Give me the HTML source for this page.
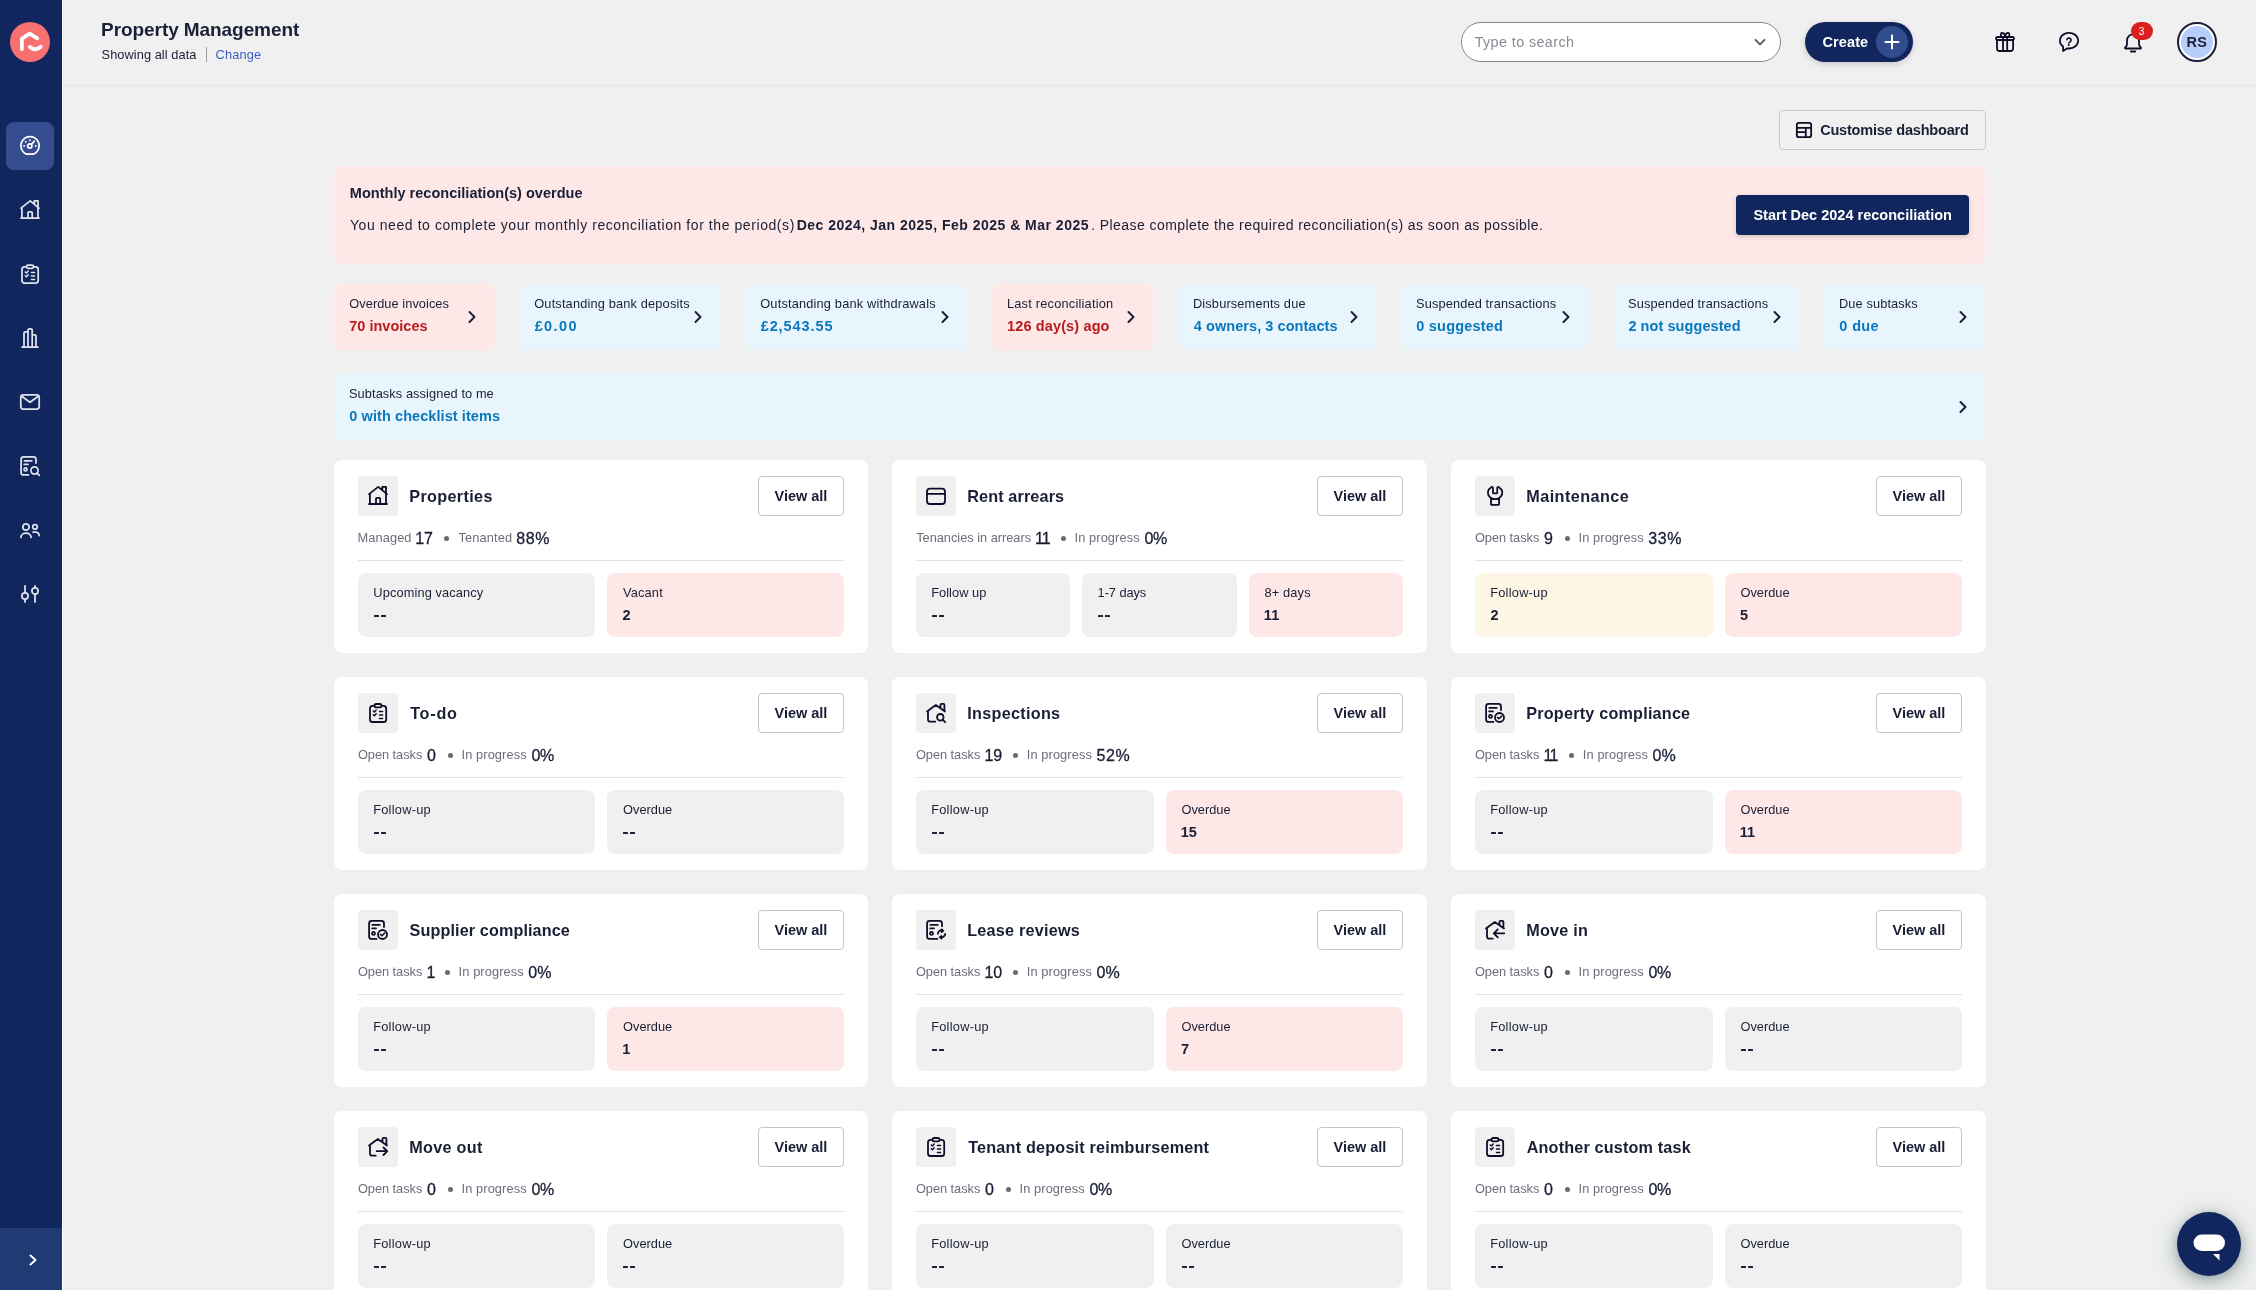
<!DOCTYPE html>
<html><head><meta charset="utf-8"><title>Property Management</title><style>html,body{margin:0;padding:0}
body{width:2256px;height:1290px;overflow:hidden;background:#f0f0f0;font-family:"Liberation Sans",sans-serif;position:relative;color:#1a1f36}
#app{position:absolute;left:0;top:0;width:2256px;height:1290px;overflow:hidden;will-change:transform}
.t{position:absolute;white-space:nowrap;line-height:1;margin:0;padding:0}
</style></head><body>
<div id="app">
<div style="position:absolute;left:0px;top:0px;width:62px;height:1290px;background:#11265c;border-radius:0px;"></div>
<div style="position:absolute;left:62px;top:0px;width:1px;height:1290px;background:#ffffff;border-radius:0px;"></div>
<div style="position:absolute;left:0px;top:1228px;width:62px;height:62px;background:#203a74;border-radius:0px;"></div>
<svg style="position:absolute;left:25px;top:1252px" width="16" height="16" viewBox="25 1252 16 16"><path d="M30.5 1255.5 L35.5 1260 L30.5 1264.5" fill="none" stroke="#ffffff" stroke-width="2" stroke-linecap="round" stroke-linejoin="round"/></svg>
<div style="position:absolute;left:10px;top:22px;width:40px;height:40px;background:#f87171;border-radius:20px;"></div>
<svg style="position:absolute;left:10px;top:22px" width="40" height="40" viewBox="10 22 40 40" fill="none" stroke="#fff" stroke-width="3.8" stroke-linecap="round" stroke-linejoin="round"><path d="M21.9 49.2 V38.6 L29.8 33.7 L37.3 38.3 M29.9 47 Q35.2 51.6 40.7 46.8"/></svg>
<div style="position:absolute;left:6px;top:122px;width:48px;height:48px;background:#334d8f;border-radius:8px;"></div>
<svg style="position:absolute;left:18px;top:134px;overflow:visible" width="24" height="24" viewBox="-12 -12 24 24" fill="none" stroke="#ffffff" stroke-width="1.75" stroke-linecap="round" stroke-linejoin="round"><path d="M-3.5 8.2 A9.1 9.1 0 1 1 3.5 8.2 Z"/><circle cx="-0.2" cy="0" r="2.1"/><path d="M1.3 -1.6 L4.2 -4.7"/><g fill="#ffffff" stroke="none"><circle cx="-5.9" cy="0" r="0.95"/><circle cx="5.7" cy="0" r="0.95"/><circle cx="-0.2" cy="-5.8" r="0.95"/><circle cx="-4.3" cy="-4.3" r="0.95"/></g></svg>
<svg style="position:absolute;left:18px;top:198px;overflow:visible" width="24" height="24" viewBox="-12 -12 24 24" fill="none" stroke="#dfe3ee" stroke-width="1.75" stroke-linecap="round" stroke-linejoin="round"><path d="M-9 8 H9 M-8.1 8 V-2.2 M8 8 V-9.1 M-9 -1.85 L0.2 -9.1 L9 -1.85 M4.3 -5.9 V-9.1 H8 M-2 8 V2.8 a1 1 0 0 1 1 -1 H1.2 a1 1 0 0 1 1 1 V8"/></svg>
<svg style="position:absolute;left:18px;top:262px;overflow:visible" width="24" height="24" viewBox="-12 -12 24 24" fill="none" stroke="#dfe3ee" stroke-width="1.75" stroke-linecap="round" stroke-linejoin="round"><rect x="-8" y="-7.2" width="16.2" height="16.2" rx="2.6"/><rect x="-3.5" y="-9" width="7" height="3.3" rx="1.6" fill="#11265c"/><path d="M-4.7 -2 L-3.6 -1 L-1.8 -2.9 M-4.7 1.7 L-3.6 2.7 L-1.8 0.8 M1.5 -1.6 H4.6 M1.5 2 H4.6 M1.5 5.6 H4.6" stroke-width="1.5"/></svg>
<svg style="position:absolute;left:18px;top:326px;overflow:visible" width="24" height="24" viewBox="-12 -12 24 24" fill="none" stroke="#dfe3ee" stroke-width="1.75" stroke-linecap="round" stroke-linejoin="round"><path d="M-8 9 H8 M-6 9 V-5 a1.2 1.2 0 0 1 1.2 -1.2 H-2 M-2 9 V-7.9 a1.2 1.2 0 0 1 1.2 -1.2 h1.8 a1.2 1.2 0 0 1 1.2 1.2 V9 M2.2 -3.2 H4.8 a1.2 1.2 0 0 1 1.2 1.2 V9"/></svg>
<svg style="position:absolute;left:18px;top:390px;overflow:visible" width="24" height="24" viewBox="-12 -12 24 24" fill="none" stroke="#dfe3ee" stroke-width="1.75" stroke-linecap="round" stroke-linejoin="round"><rect x="-9.2" y="-7.2" width="18.4" height="14.4" rx="2.6"/><path d="M-8.3 -5.8 L0 0.3 L8.3 -5.8"/></svg>
<svg style="position:absolute;left:18px;top:454px;overflow:visible" width="24" height="24" viewBox="-12 -12 24 24" fill="none" stroke="#dfe3ee" stroke-width="1.75" stroke-linecap="round" stroke-linejoin="round"><path d="M6 -3 V-6.6 a2.5 2.5 0 0 0 -2.5 -2.5 H-6.4 a2.5 2.5 0 0 0 -2.5 2.5 V6.4 a2.5 2.5 0 0 0 2.5 2.5 H-1.5 M-5.6 -5.1 H1.8 M-5.8 -1.6 H-2"/><circle cx="-4.5" cy="3.4" r="1.5"/><circle cx="4.5" cy="4.5" r="3.55"/><path d="M7.2 7.2 L9.3 9.3"/></svg>
<svg style="position:absolute;left:18px;top:518px;overflow:visible" width="24" height="24" viewBox="-12 -12 24 24" fill="none" stroke="#dfe3ee" stroke-width="1.75" stroke-linecap="round" stroke-linejoin="round"><circle cx="-4" cy="-3.1" r="3.15"/><path d="M-9.1 7.4 A5.1 4.3 0 0 1 1.1 7.4"/><circle cx="5" cy="-3.1" r="2.3"/><path d="M3 2 H5.7 A3.5 3.5 0 0 1 9.2 5.5"/></svg>
<svg style="position:absolute;left:18px;top:582px;overflow:visible" width="24" height="24" viewBox="-12 -12 24 24" fill="none" stroke="#dfe3ee" stroke-width="1.75" stroke-linecap="round" stroke-linejoin="round"><path d="M-5 -8.7 V-1.1 M-5 5.1 V8.7 M5 -8.7 V-6.2 M5 0 V8.7" stroke-linecap="butt"/><circle cx="-5" cy="2" r="3.1"/><circle cx="5" cy="-3.1" r="3.1"/></svg>
<div style="position:absolute;left:63px;top:85px;width:2193px;height:1px;background:#e3e5e6;border-radius:0px;"></div>
<span class="t" id="t0" style="left:101.12px;top:20px;font-size:19px;font-weight:700;color:#1a1f36;letter-spacing:-0.076px">Property Management</span>
<span class="t" id="t1" style="left:101.57px;top:49px;font-size:12.8px;font-weight:400;color:#1a1f36;letter-spacing:0.061px">Showing all data</span>
<div style="position:absolute;left:206px;top:47px;width:1px;height:15px;background:#9a9a9a;border-radius:0px;"></div>
<span class="t" id="t2" style="left:215.48px;top:49px;font-size:12.8px;font-weight:400;color:#3b5fc4;letter-spacing:0.172px">Change</span>
<div style="position:absolute;left:1461px;top:22px;width:320px;height:40px;box-sizing:border-box;background:#fff;border:1px solid #80858c;border-radius:20px"></div>
<span class="t" id="t3" style="left:1474.66px;top:35px;font-size:14.3px;font-weight:400;color:#868b92;letter-spacing:0.423px">Type to search</span>
<svg style="position:absolute;left:1752px;top:34px" width="16" height="16" viewBox="1752 34 16 16"><path d="M1755.5 39.8 L1760 44.3 L1764.5 39.8" fill="none" stroke="#555" stroke-width="1.9" stroke-linecap="round" stroke-linejoin="round"/></svg>
<div style="position:absolute;left:1805px;top:22px;width:108px;height:40px;background:#11265c;border-radius:20px;box-shadow:0 2px 6px rgba(0,0,0,.17)"></div>
<span class="t" id="t4" style="left:1822.42px;top:35px;font-size:14.5px;font-weight:700;color:#fff;letter-spacing:0.124px">Create</span>
<div style="position:absolute;left:1876px;top:26px;width:32px;height:32px;background:#314c8f;border-radius:16px;"></div>
<svg style="position:absolute;left:1876px;top:26px" width="32" height="32" viewBox="0 0 32 32"><path d="M16 9.5V22.5M9.5 16H22.5" stroke="#fff" stroke-width="2" stroke-linecap="round"/></svg>
<svg style="position:absolute;left:1993px;top:30px;overflow:visible" width="24" height="24" viewBox="-12 -12 24 24" fill="none" stroke="#100d28" stroke-width="1.8" stroke-linecap="round" stroke-linejoin="round"><rect x="-9" y="-5" width="18" height="3" rx="1.4"/><path d="M-8 -2 V6.5 a2.5 2.5 0 0 0 2.5 2.5 H5.6 a2.5 2.5 0 0 0 2.5 -2.5 V-2 M-2 -5 V9 M2.2 -5 V9 M0.1 -5.4 C-0.3 -7.6 -1.7 -9.2 -3 -9.1 C-4.4 -9 -4.5 -6.9 -3.6 -5.3 M0.1 -5.4 C0.5 -7.6 1.9 -9.2 3.2 -9.1 C4.6 -9 4.7 -6.9 3.8 -5.3"/></svg>
<svg style="position:absolute;left:2057px;top:30px;overflow:visible" width="24" height="24" viewBox="-12 -12 24 24" fill="none" stroke="#100d28" stroke-width="1.8" stroke-linecap="round" stroke-linejoin="round"><path d="M-1.6 6.35 A9.1 7.8 0 1 0 -5.9 4.6 L-5.9 9.1 Z"/><path d="M-2.1 -2.3 A2.1 2.1 0 1 1 1.4 -0.4 L-0.2 1" stroke-width="1.6"/><circle cx="-0.2" cy="3.1" r="1" fill="#100d28" stroke="none"/></svg>
<svg style="position:absolute;left:2121px;top:30.5px;overflow:visible" width="24" height="24" viewBox="-12 -12 24 24" fill="none" stroke="#100d28" stroke-width="1.8" stroke-linecap="round" stroke-linejoin="round"><path d="M-6 1.5 V-2.6 a6 6 0 0 1 12 0 V1.5 c0 1.5 2 2.4 2 3.4 c0 .4 -.3 .6 -.7 .6 H-7.3 c-.4 0 -.7 -.2 -.7 -.6 c0 -1 2 -1.9 2 -3.4Z M-2.2 8.5 H2.2"/></svg>
<div style="position:absolute;left:2131px;top:22px;width:22px;height:18px;background:#dc2020;border-radius:9px;"></div>
<span class="t" id="t5" style="left:2138.80px;top:27px;font-size:10px;font-weight:400;color:#fff;letter-spacing:0.000px">3</span>
<div style="position:absolute;left:2177px;top:22px;width:40px;height:40px;box-sizing:border-box;border:2px solid #1a1f36;border-radius:20px;background:#fff"></div>
<div style="position:absolute;left:2181px;top:26px;width:32px;height:32px;background:#b7cdfb;border-radius:16px;"></div>
<span class="t" id="t6" style="left:2186.40px;top:35px;font-size:14.5px;font-weight:700;color:#1a1f36;letter-spacing:0.400px">RS</span>
<div style="position:absolute;left:1779px;top:110px;width:207px;height:40px;box-sizing:border-box;border:1px solid #c6c8cc;border-radius:4px"></div>
<svg style="position:absolute;left:1792px;top:118px;overflow:visible" width="24" height="24" viewBox="-12 -12 24 24" fill="none" stroke="#100d28" stroke-width="1.8" stroke-linecap="round" stroke-linejoin="round"><rect x="-7.15" y="-7.15" width="14.3" height="14.3" rx="2"/><path d="M-7.15 -2.2 H7.15 M1.8 -2.2 V7.15 M-7.15 2.1 H1.8" stroke-linecap="butt"/></svg>
<span class="t" id="t7" style="left:1820.18px;top:123px;font-size:14.5px;font-weight:700;color:#1a1f36;letter-spacing:-0.202px">Customise dashboard</span>
<div style="position:absolute;left:334px;top:166px;width:1652px;height:98px;background:#fde8e7;border-radius:8px;"></div>
<span class="t" id="t8" style="left:349.87px;top:186px;font-size:14.5px;font-weight:700;color:#1a1f36;letter-spacing:0.019px">Monthly reconciliation(s) overdue</span>
<span class="t" id="t9" style="left:349.95px;top:218px;font-size:14px;font-weight:400;color:#1a1f36;letter-spacing:0.571px">You need to complete your monthly reconciliation for the period(s)</span>
<span class="t" id="t10" style="left:796.65px;top:218px;font-size:14px;font-weight:700;color:#1a1f36;letter-spacing:0.491px">Dec 2024, Jan 2025, Feb 2025 &amp; Mar 2025</span>
<span class="t" id="t11" style="left:1091.19px;top:218px;font-size:14px;font-weight:400;color:#1a1f36;letter-spacing:0.427px">. Please complete the required reconciliation(s) as soon as possible.</span>
<div style="position:absolute;left:1736px;top:195px;width:233px;height:40px;background:#11265c;border-radius:4px;box-shadow:0 2px 5px rgba(0,0,0,.16)"></div>
<span class="t" id="t12" style="left:1753.42px;top:208px;font-size:14.5px;font-weight:700;color:#fff;letter-spacing:0.010px">Start Dec 2024 reconciliation</span>
<div style="position:absolute;left:334px;top:284px;width:161px;height:66px;background:#fde8e7;border-radius:8px;"></div>
<span class="t" id="t13" style="left:349.25px;top:298px;font-size:12.8px;font-weight:400;color:#1a1f36;letter-spacing:0.054px">Overdue invoices</span>
<span class="t" id="t14" style="left:349.31px;top:319px;font-size:14.5px;font-weight:700;color:#b91c1c;letter-spacing:0.005px">70 invoices</span>
<svg style="position:absolute;left:464px;top:309px" width="16" height="16" viewBox="464 309 16 16"><path d="M469.5 312.0 L474.5 317 L469.5 322.0" fill="none" stroke="#1a1f36" stroke-width="2" stroke-linecap="round" stroke-linejoin="round"/></svg>
<div style="position:absolute;left:519px;top:284px;width:202px;height:66px;background:#e8f5fc;border-radius:8px;"></div>
<span class="t" id="t15" style="left:534.25px;top:298px;font-size:12.8px;font-weight:400;color:#1a1f36;letter-spacing:0.157px">Outstanding bank deposits</span>
<span class="t" id="t16" style="left:534.67px;top:319px;font-size:14.5px;font-weight:700;color:#0b78be;letter-spacing:1.396px">£0.00</span>
<svg style="position:absolute;left:690px;top:309px" width="16" height="16" viewBox="690 309 16 16"><path d="M695.5 312.0 L700.5 317 L695.5 322.0" fill="none" stroke="#1a1f36" stroke-width="2" stroke-linecap="round" stroke-linejoin="round"/></svg>
<div style="position:absolute;left:745px;top:284px;width:223px;height:66px;background:#e8f5fc;border-radius:8px;"></div>
<span class="t" id="t17" style="left:760.25px;top:298px;font-size:12.8px;font-weight:400;color:#1a1f36;letter-spacing:0.170px">Outstanding bank withdrawals</span>
<span class="t" id="t18" style="left:760.67px;top:319px;font-size:14.5px;font-weight:700;color:#0b78be;letter-spacing:0.912px">£2,543.55</span>
<svg style="position:absolute;left:937px;top:309px" width="16" height="16" viewBox="937 309 16 16"><path d="M942.5 312.0 L947.5 317 L942.5 322.0" fill="none" stroke="#1a1f36" stroke-width="2" stroke-linecap="round" stroke-linejoin="round"/></svg>
<div style="position:absolute;left:992px;top:284px;width:162px;height:66px;background:#fde8e7;border-radius:8px;"></div>
<span class="t" id="t19" style="left:1006.97px;top:298px;font-size:12.8px;font-weight:400;color:#1a1f36;letter-spacing:0.208px">Last reconciliation</span>
<span class="t" id="t20" style="left:1006.99px;top:319px;font-size:14.5px;font-weight:700;color:#b91c1c;letter-spacing:0.135px">126 day(s) ago</span>
<svg style="position:absolute;left:1123px;top:309px" width="16" height="16" viewBox="1123 309 16 16"><path d="M1128.5 312.0 L1133.5 317 L1128.5 322.0" fill="none" stroke="#1a1f36" stroke-width="2" stroke-linecap="round" stroke-linejoin="round"/></svg>
<div style="position:absolute;left:1178px;top:284px;width:199px;height:66px;background:#e8f5fc;border-radius:8px;"></div>
<span class="t" id="t21" style="left:1192.96px;top:298px;font-size:12.8px;font-weight:400;color:#1a1f36;letter-spacing:0.144px">Disbursements due</span>
<span class="t" id="t22" style="left:1193.86px;top:319px;font-size:14.5px;font-weight:700;color:#0b78be;letter-spacing:0.054px">4 owners, 3 contacts</span>
<svg style="position:absolute;left:1346px;top:309px" width="16" height="16" viewBox="1346 309 16 16"><path d="M1351.5 312.0 L1356.5 317 L1351.5 322.0" fill="none" stroke="#1a1f36" stroke-width="2" stroke-linecap="round" stroke-linejoin="round"/></svg>
<div style="position:absolute;left:1401px;top:284px;width:188px;height:66px;background:#e8f5fc;border-radius:8px;"></div>
<span class="t" id="t23" style="left:1416.00px;top:298px;font-size:12.8px;font-weight:400;color:#1a1f36;letter-spacing:0.131px">Suspended transactions</span>
<span class="t" id="t24" style="left:1416.36px;top:319px;font-size:14.5px;font-weight:700;color:#0b78be;letter-spacing:0.195px">0 suggested</span>
<svg style="position:absolute;left:1558px;top:309px" width="16" height="16" viewBox="1558 309 16 16"><path d="M1563.5 312.0 L1568.5 317 L1563.5 322.0" fill="none" stroke="#1a1f36" stroke-width="2" stroke-linecap="round" stroke-linejoin="round"/></svg>
<div style="position:absolute;left:1613px;top:284px;width:187px;height:66px;background:#e8f5fc;border-radius:8px;"></div>
<span class="t" id="t25" style="left:1628.00px;top:298px;font-size:12.8px;font-weight:400;color:#1a1f36;letter-spacing:0.131px">Suspended transactions</span>
<span class="t" id="t26" style="left:1628.40px;top:319px;font-size:14.5px;font-weight:700;color:#0b78be;letter-spacing:0.069px">2 not suggested</span>
<svg style="position:absolute;left:1769px;top:309px" width="16" height="16" viewBox="1769 309 16 16"><path d="M1774.5 312.0 L1779.5 317 L1774.5 322.0" fill="none" stroke="#1a1f36" stroke-width="2" stroke-linecap="round" stroke-linejoin="round"/></svg>
<div style="position:absolute;left:1824px;top:284px;width:162px;height:66px;background:#e8f5fc;border-radius:8px;"></div>
<span class="t" id="t27" style="left:1838.96px;top:298px;font-size:12.8px;font-weight:400;color:#1a1f36;letter-spacing:0.111px">Due subtasks</span>
<span class="t" id="t28" style="left:1839.36px;top:319px;font-size:14.5px;font-weight:700;color:#0b78be;letter-spacing:0.344px">0 due</span>
<svg style="position:absolute;left:1955px;top:309px" width="16" height="16" viewBox="1955 309 16 16"><path d="M1960.5 312.0 L1965.5 317 L1960.5 322.0" fill="none" stroke="#1a1f36" stroke-width="2" stroke-linecap="round" stroke-linejoin="round"/></svg>
<div style="position:absolute;left:334px;top:374px;width:1652px;height:66px;background:#e8f5fc;border-radius:8px;"></div>
<span class="t" id="t29" style="left:349.00px;top:388px;font-size:12.8px;font-weight:400;color:#1a1f36;letter-spacing:0.080px">Subtasks assigned to me</span>
<span class="t" id="t30" style="left:349.36px;top:409px;font-size:14.5px;font-weight:700;color:#0b78be;letter-spacing:0.075px">0 with checklist items</span>
<svg style="position:absolute;left:1955px;top:399px" width="16" height="16" viewBox="1955 399 16 16"><path d="M1960.5 402.0 L1965.5 407 L1960.5 412.0" fill="none" stroke="#1a1f36" stroke-width="2" stroke-linecap="round" stroke-linejoin="round"/></svg>
<div style="position:absolute;left:334px;top:460px;width:534px;height:193px;background:#fff;border-radius:8px;"></div>
<div style="position:absolute;left:358px;top:476px;width:40px;height:40px;background:#f0f0f0;border-radius:4px;"></div>
<svg style="position:absolute;left:366px;top:484px;overflow:visible" width="24" height="24" viewBox="-12 -12 24 24" fill="none" stroke="#100d28" stroke-width="1.8" stroke-linecap="round" stroke-linejoin="round"><path d="M-9 8 H9 M-8.1 8 V-2.2 M8 8 V-9.1 M-9 -1.85 L0.2 -9.1 L9 -1.85 M4.3 -5.9 V-9.1 H8 M-2 8 V2.8 a1 1 0 0 1 1 -1 H1.2 a1 1 0 0 1 1 1 V8"/></svg>
<span class="t" id="t31" style="left:409.26px;top:488px;font-size:16.2px;font-weight:700;color:#1a1f36;letter-spacing:0.346px">Properties</span>
<div style="position:absolute;left:758px;top:476px;width:86px;height:40px;box-sizing:border-box;border:1px solid #c3c5ca;border-radius:4px;background:#fff"></div>
<span class="t" id="t32" style="left:774.53px;top:489px;font-size:14.5px;font-weight:700;color:#1a1f36;letter-spacing:-0.016px">View all</span>
<span class="t" id="t33" style="left:357.55px;top:532px;font-size:12.8px;font-weight:400;color:#6b6f7b;letter-spacing:0.091px">Managed</span>
<span class="t" id="t34" style="left:415.19px;top:531px;font-size:16px;font-weight:400;color:#1a1f36;letter-spacing:0.009px;-webkit-text-stroke:0.3px #1a1f36">17</span>
<div style="position:absolute;left:444.1px;top:536.2px;width:5px;height:5px;background:#666a73;border-radius:2.5px;"></div>
<span class="t" id="t35" style="left:458.60px;top:532px;font-size:12.8px;font-weight:400;color:#6b6f7b;letter-spacing:0.126px">Tenanted</span>
<span class="t" id="t36" style="left:516.31px;top:531px;font-size:16px;font-weight:400;color:#1a1f36;letter-spacing:0.566px;-webkit-text-stroke:0.3px #1a1f36">88%</span>
<div style="position:absolute;left:358px;top:560px;width:486px;height:1px;background:#e1e3e6;border-radius:0px;"></div>
<div style="position:absolute;left:358.0px;top:573px;width:237.0px;height:64px;background:#f0f0f0;border-radius:8px;"></div>
<span class="t" id="t37" style="left:373.32px;top:587px;font-size:12.8px;font-weight:400;color:#1a1f36;letter-spacing:0.118px">Upcoming vacancy</span>
<div style="position:absolute;left:374.0px;top:615px;width:5px;height:1.9px;background:#1a1f36;border-radius:0.5px;"></div>
<div style="position:absolute;left:381.0px;top:615px;width:5px;height:1.9px;background:#1a1f36;border-radius:0.5px;"></div>
<div style="position:absolute;left:607.0px;top:573px;width:237.0px;height:64px;background:#fde8e7;border-radius:8px;"></div>
<span class="t" id="t38" style="left:623.04px;top:587px;font-size:12.8px;font-weight:400;color:#1a1f36;letter-spacing:0.154px">Vacant</span>
<span class="t" id="t39" style="left:622.51px;top:608px;font-size:14.5px;font-weight:700;color:#1a1f36;letter-spacing:0.174px">2</span>
<div style="position:absolute;left:892px;top:460px;width:535px;height:193px;background:#fff;border-radius:8px;"></div>
<div style="position:absolute;left:916px;top:476px;width:40px;height:40px;background:#f0f0f0;border-radius:4px;"></div>
<svg style="position:absolute;left:924px;top:484px;overflow:visible" width="24" height="24" viewBox="-12 -12 24 24" fill="none" stroke="#100d28" stroke-width="1.8" stroke-linecap="round" stroke-linejoin="round"><rect x="-9" y="-7.3" width="18" height="15.3" rx="3"/><path d="M-9 -2.1 H9"/></svg>
<span class="t" id="t40" style="left:967.26px;top:488px;font-size:16.2px;font-weight:700;color:#1a1f36;letter-spacing:0.130px">Rent arrears</span>
<div style="position:absolute;left:1317px;top:476px;width:86px;height:40px;box-sizing:border-box;border:1px solid #c3c5ca;border-radius:4px;background:#fff"></div>
<span class="t" id="t41" style="left:1333.53px;top:489px;font-size:14.5px;font-weight:700;color:#1a1f36;letter-spacing:-0.016px">View all</span>
<span class="t" id="t42" style="left:916.18px;top:532px;font-size:12.8px;font-weight:400;color:#6b6f7b;letter-spacing:-0.016px">Tenancies in arrears</span>
<span class="t" id="t43" style="left:1035.11px;top:531px;font-size:16px;font-weight:400;color:#1a1f36;letter-spacing:-1.148px;-webkit-text-stroke:0.3px #1a1f36">11</span>
<div style="position:absolute;left:1061.1px;top:536.2px;width:5px;height:5px;background:#666a73;border-radius:2.5px;"></div>
<span class="t" id="t44" style="left:1074.55px;top:532px;font-size:12.8px;font-weight:400;color:#6b6f7b;letter-spacing:0.097px">In progress</span>
<span class="t" id="t45" style="left:1144.41px;top:531px;font-size:16px;font-weight:400;color:#1a1f36;letter-spacing:-0.299px;-webkit-text-stroke:0.3px #1a1f36">0%</span>
<div style="position:absolute;left:916px;top:560px;width:487px;height:1px;background:#e1e3e6;border-radius:0px;"></div>
<div style="position:absolute;left:916.0px;top:573px;width:154.3px;height:64px;background:#f0f0f0;border-radius:8px;"></div>
<span class="t" id="t46" style="left:931.19px;top:587px;font-size:12.8px;font-weight:400;color:#1a1f36;letter-spacing:0.050px">Follow up</span>
<div style="position:absolute;left:932.0px;top:615px;width:5px;height:1.9px;background:#1a1f36;border-radius:0.5px;"></div>
<div style="position:absolute;left:939.0px;top:615px;width:5px;height:1.9px;background:#1a1f36;border-radius:0.5px;"></div>
<div style="position:absolute;left:1082.3px;top:573px;width:154.3px;height:64px;background:#f0f0f0;border-radius:8px;"></div>
<span class="t" id="t47" style="left:1097.61px;top:587px;font-size:12.8px;font-weight:400;color:#1a1f36;letter-spacing:-0.066px">1-7 days</span>
<div style="position:absolute;left:1098.3px;top:615px;width:5px;height:1.9px;background:#1a1f36;border-radius:0.5px;"></div>
<div style="position:absolute;left:1105.3px;top:615px;width:5px;height:1.9px;background:#1a1f36;border-radius:0.5px;"></div>
<div style="position:absolute;left:1248.7px;top:573px;width:154.3px;height:64px;background:#fde8e7;border-radius:8px;"></div>
<span class="t" id="t48" style="left:1264.43px;top:587px;font-size:12.8px;font-weight:400;color:#1a1f36;letter-spacing:0.159px">8+ days</span>
<span class="t" id="t49" style="left:1263.86px;top:608px;font-size:14.5px;font-weight:700;color:#1a1f36;letter-spacing:0.174px">11</span>
<div style="position:absolute;left:1451px;top:460px;width:535px;height:193px;background:#fff;border-radius:8px;"></div>
<div style="position:absolute;left:1475px;top:476px;width:40px;height:40px;background:#f0f0f0;border-radius:4px;"></div>
<svg style="position:absolute;left:1483px;top:484px;overflow:visible" width="24" height="24" viewBox="-12 -12 24 24" fill="none" stroke="#100d28" stroke-width="1.8" stroke-linecap="round" stroke-linejoin="round"><path d="M-2.05 -3.6 V-8.1 Q-2.05 -9.5 -3.7 -8.8 A7.2 6.5 0 1 0 3.9 -8.8 Q2.25 -9.5 2.25 -8.1 V-3.6 a1 1 0 0 1 -1 1 H-1.05 a1 1 0 0 1 -1 -1 M-4 2.1 V7.9 a1 1 0 0 0 1 1 H3.1 a1 1 0 0 0 1 -1 V2.1"/></svg>
<span class="t" id="t50" style="left:1526.26px;top:488px;font-size:16.2px;font-weight:700;color:#1a1f36;letter-spacing:0.451px">Maintenance</span>
<div style="position:absolute;left:1876px;top:476px;width:86px;height:40px;box-sizing:border-box;border:1px solid #c3c5ca;border-radius:4px;background:#fff"></div>
<span class="t" id="t51" style="left:1892.53px;top:489px;font-size:14.5px;font-weight:700;color:#1a1f36;letter-spacing:-0.016px">View all</span>
<span class="t" id="t52" style="left:1474.89px;top:532px;font-size:12.8px;font-weight:400;color:#6b6f7b;letter-spacing:-0.035px">Open tasks</span>
<span class="t" id="t53" style="left:1543.89px;top:531px;font-size:16px;font-weight:400;color:#1a1f36;letter-spacing:0.480px;-webkit-text-stroke:0.3px #1a1f36">9</span>
<div style="position:absolute;left:1565.1px;top:536.2px;width:5px;height:5px;background:#666a73;border-radius:2.5px;"></div>
<span class="t" id="t54" style="left:1578.55px;top:532px;font-size:12.8px;font-weight:400;color:#6b6f7b;letter-spacing:0.097px">In progress</span>
<span class="t" id="t55" style="left:1648.16px;top:531px;font-size:16px;font-weight:400;color:#1a1f36;letter-spacing:0.616px;-webkit-text-stroke:0.3px #1a1f36">33%</span>
<div style="position:absolute;left:1475px;top:560px;width:487px;height:1px;background:#e1e3e6;border-radius:0px;"></div>
<div style="position:absolute;left:1475.0px;top:573px;width:237.5px;height:64px;background:#fef6e4;border-radius:8px;"></div>
<span class="t" id="t56" style="left:1490.18px;top:587px;font-size:12.8px;font-weight:400;color:#1a1f36;letter-spacing:0.244px">Follow-up</span>
<span class="t" id="t57" style="left:1490.51px;top:608px;font-size:14.5px;font-weight:700;color:#1a1f36;letter-spacing:0.174px">2</span>
<div style="position:absolute;left:1724.5px;top:573px;width:237.5px;height:64px;background:#fde8e7;border-radius:8px;"></div>
<span class="t" id="t58" style="left:1740.52px;top:587px;font-size:12.8px;font-weight:400;color:#1a1f36;letter-spacing:-0.016px">Overdue</span>
<span class="t" id="t59" style="left:1739.92px;top:608px;font-size:14.5px;font-weight:700;color:#1a1f36;letter-spacing:0.174px">5</span>
<div style="position:absolute;left:334px;top:677px;width:534px;height:193px;background:#fff;border-radius:8px;"></div>
<div style="position:absolute;left:358px;top:693px;width:40px;height:40px;background:#f0f0f0;border-radius:4px;"></div>
<svg style="position:absolute;left:366px;top:701px;overflow:visible" width="24" height="24" viewBox="-12 -12 24 24" fill="none" stroke="#100d28" stroke-width="1.8" stroke-linecap="round" stroke-linejoin="round"><rect x="-8" y="-7.2" width="16.2" height="16.2" rx="2.6"/><rect x="-3.5" y="-9" width="7" height="3.3" rx="1.6" fill="#f0f0f0"/><path d="M-4.7 -2 L-3.6 -1 L-1.8 -2.9 M-4.7 1.7 L-3.6 2.7 L-1.8 0.8 M1.5 -1.6 H4.6 M1.5 2 H4.6 M1.5 5.6 H4.6" stroke-width="1.5"/></svg>
<span class="t" id="t60" style="left:410.17px;top:705px;font-size:16.2px;font-weight:700;color:#1a1f36;letter-spacing:0.771px">To-do</span>
<div style="position:absolute;left:758px;top:693px;width:86px;height:40px;box-sizing:border-box;border:1px solid #c3c5ca;border-radius:4px;background:#fff"></div>
<span class="t" id="t61" style="left:774.53px;top:706px;font-size:14.5px;font-weight:700;color:#1a1f36;letter-spacing:-0.016px">View all</span>
<span class="t" id="t62" style="left:357.89px;top:749px;font-size:12.8px;font-weight:400;color:#6b6f7b;letter-spacing:-0.035px">Open tasks</span>
<span class="t" id="t63" style="left:426.99px;top:748px;font-size:16px;font-weight:400;color:#1a1f36;letter-spacing:0.480px;-webkit-text-stroke:0.3px #1a1f36">0</span>
<div style="position:absolute;left:448.1px;top:753.2px;width:5px;height:5px;background:#666a73;border-radius:2.5px;"></div>
<span class="t" id="t64" style="left:461.55px;top:749px;font-size:12.8px;font-weight:400;color:#6b6f7b;letter-spacing:0.097px">In progress</span>
<span class="t" id="t65" style="left:531.41px;top:748px;font-size:16px;font-weight:400;color:#1a1f36;letter-spacing:-0.299px;-webkit-text-stroke:0.3px #1a1f36">0%</span>
<div style="position:absolute;left:358px;top:777px;width:486px;height:1px;background:#e1e3e6;border-radius:0px;"></div>
<div style="position:absolute;left:358.0px;top:790px;width:237.0px;height:64px;background:#f0f0f0;border-radius:8px;"></div>
<span class="t" id="t66" style="left:373.19px;top:804px;font-size:12.8px;font-weight:400;color:#1a1f36;letter-spacing:0.244px">Follow-up</span>
<div style="position:absolute;left:374.0px;top:832px;width:5px;height:1.9px;background:#1a1f36;border-radius:0.5px;"></div>
<div style="position:absolute;left:381.0px;top:832px;width:5px;height:1.9px;background:#1a1f36;border-radius:0.5px;"></div>
<div style="position:absolute;left:607.0px;top:790px;width:237.0px;height:64px;background:#f0f0f0;border-radius:8px;"></div>
<span class="t" id="t67" style="left:623.12px;top:804px;font-size:12.8px;font-weight:400;color:#1a1f36;letter-spacing:-0.004px">Overdue</span>
<div style="position:absolute;left:623.0px;top:832px;width:5px;height:1.9px;background:#1a1f36;border-radius:0.5px;"></div>
<div style="position:absolute;left:630.0px;top:832px;width:5px;height:1.9px;background:#1a1f36;border-radius:0.5px;"></div>
<div style="position:absolute;left:892px;top:677px;width:535px;height:193px;background:#fff;border-radius:8px;"></div>
<div style="position:absolute;left:916px;top:693px;width:40px;height:40px;background:#f0f0f0;border-radius:4px;"></div>
<svg style="position:absolute;left:924px;top:701px;overflow:visible" width="24" height="24" viewBox="-12 -12 24 24" fill="none" stroke="#100d28" stroke-width="1.8" stroke-linecap="round" stroke-linejoin="round"><path d="M-8 -1.5 V6.5 a2.2 2.2 0 0 0 2.2 2.2 H-0.8 M-9 -1.6 L-0.2 -7.9 L9 -1.55 M4.5 -5.2 V-8.2 a1 1 0 0 1 1 -1 h1.9 a1 1 0 0 1 1 1 V-2.2"/><circle cx="4.3" cy="4.3" r="3.3"/><path d="M6.8 6.8 L9.2 9.2"/></svg>
<span class="t" id="t68" style="left:967.25px;top:705px;font-size:16.2px;font-weight:700;color:#1a1f36;letter-spacing:0.288px">Inspections</span>
<div style="position:absolute;left:1317px;top:693px;width:86px;height:40px;box-sizing:border-box;border:1px solid #c3c5ca;border-radius:4px;background:#fff"></div>
<span class="t" id="t69" style="left:1333.53px;top:706px;font-size:14.5px;font-weight:700;color:#1a1f36;letter-spacing:-0.016px">View all</span>
<span class="t" id="t70" style="left:915.89px;top:749px;font-size:12.8px;font-weight:400;color:#6b6f7b;letter-spacing:-0.035px">Open tasks</span>
<span class="t" id="t71" style="left:984.41px;top:748px;font-size:16px;font-weight:400;color:#1a1f36;letter-spacing:-0.023px;-webkit-text-stroke:0.3px #1a1f36">19</span>
<div style="position:absolute;left:1013.3px;top:753.2px;width:5px;height:5px;background:#666a73;border-radius:2.5px;"></div>
<span class="t" id="t72" style="left:1026.82px;top:749px;font-size:12.8px;font-weight:400;color:#6b6f7b;letter-spacing:0.098px">In progress</span>
<span class="t" id="t73" style="left:1096.46px;top:748px;font-size:16px;font-weight:400;color:#1a1f36;letter-spacing:0.595px;-webkit-text-stroke:0.3px #1a1f36">52%</span>
<div style="position:absolute;left:916px;top:777px;width:487px;height:1px;background:#e1e3e6;border-radius:0px;"></div>
<div style="position:absolute;left:916.0px;top:790px;width:237.5px;height:64px;background:#f0f0f0;border-radius:8px;"></div>
<span class="t" id="t74" style="left:931.19px;top:804px;font-size:12.8px;font-weight:400;color:#1a1f36;letter-spacing:0.244px">Follow-up</span>
<div style="position:absolute;left:932.0px;top:832px;width:5px;height:1.9px;background:#1a1f36;border-radius:0.5px;"></div>
<div style="position:absolute;left:939.0px;top:832px;width:5px;height:1.9px;background:#1a1f36;border-radius:0.5px;"></div>
<div style="position:absolute;left:1165.5px;top:790px;width:237.5px;height:64px;background:#fde8e7;border-radius:8px;"></div>
<span class="t" id="t75" style="left:1181.52px;top:804px;font-size:12.8px;font-weight:400;color:#1a1f36;letter-spacing:-0.016px">Overdue</span>
<span class="t" id="t76" style="left:1180.64px;top:825px;font-size:14.5px;font-weight:700;color:#1a1f36;letter-spacing:0.174px">15</span>
<div style="position:absolute;left:1451px;top:677px;width:535px;height:193px;background:#fff;border-radius:8px;"></div>
<div style="position:absolute;left:1475px;top:693px;width:40px;height:40px;background:#f0f0f0;border-radius:4px;"></div>
<svg style="position:absolute;left:1483px;top:701px;overflow:visible" width="24" height="24" viewBox="-12 -12 24 24" fill="none" stroke="#100d28" stroke-width="1.8" stroke-linecap="round" stroke-linejoin="round"><path d="M6 -3 V-6.6 a2.5 2.5 0 0 0 -2.5 -2.5 H-6.4 a2.5 2.5 0 0 0 -2.5 2.5 V6.4 a2.5 2.5 0 0 0 2.5 2.5 H-1.5 M-5.6 -5.1 H1.8 M-5.8 -1.6 H-2"/><circle cx="-4.5" cy="3.4" r="1.5"/><circle cx="4.5" cy="4.5" r="4.5"/><path d="M2.4 4.4 L3.9 5.8 L6.7 3.1" stroke-width="1.5"/></svg>
<span class="t" id="t77" style="left:1526.26px;top:705px;font-size:16.2px;font-weight:700;color:#1a1f36;letter-spacing:0.207px">Property compliance</span>
<div style="position:absolute;left:1876px;top:693px;width:86px;height:40px;box-sizing:border-box;border:1px solid #c3c5ca;border-radius:4px;background:#fff"></div>
<span class="t" id="t78" style="left:1892.53px;top:706px;font-size:14.5px;font-weight:700;color:#1a1f36;letter-spacing:-0.016px">View all</span>
<span class="t" id="t79" style="left:1474.89px;top:749px;font-size:12.8px;font-weight:400;color:#6b6f7b;letter-spacing:-0.035px">Open tasks</span>
<span class="t" id="t80" style="left:1543.41px;top:748px;font-size:16px;font-weight:400;color:#1a1f36;letter-spacing:-1.701px;-webkit-text-stroke:0.3px #1a1f36">11</span>
<div style="position:absolute;left:1569.4px;top:753.2px;width:5px;height:5px;background:#666a73;border-radius:2.5px;"></div>
<span class="t" id="t81" style="left:1582.83px;top:749px;font-size:12.8px;font-weight:400;color:#6b6f7b;letter-spacing:0.111px">In progress</span>
<span class="t" id="t82" style="left:1652.43px;top:748px;font-size:16px;font-weight:400;color:#1a1f36;letter-spacing:0.100px;-webkit-text-stroke:0.3px #1a1f36">0%</span>
<div style="position:absolute;left:1475px;top:777px;width:487px;height:1px;background:#e1e3e6;border-radius:0px;"></div>
<div style="position:absolute;left:1475.0px;top:790px;width:237.5px;height:64px;background:#f0f0f0;border-radius:8px;"></div>
<span class="t" id="t83" style="left:1490.19px;top:804px;font-size:12.8px;font-weight:400;color:#1a1f36;letter-spacing:0.244px">Follow-up</span>
<div style="position:absolute;left:1491.0px;top:832px;width:5px;height:1.9px;background:#1a1f36;border-radius:0.5px;"></div>
<div style="position:absolute;left:1498.0px;top:832px;width:5px;height:1.9px;background:#1a1f36;border-radius:0.5px;"></div>
<div style="position:absolute;left:1724.5px;top:790px;width:237.5px;height:64px;background:#fde8e7;border-radius:8px;"></div>
<span class="t" id="t84" style="left:1740.52px;top:804px;font-size:12.8px;font-weight:400;color:#1a1f36;letter-spacing:-0.016px">Overdue</span>
<span class="t" id="t85" style="left:1739.64px;top:825px;font-size:14.5px;font-weight:700;color:#1a1f36;letter-spacing:0.174px">11</span>
<div style="position:absolute;left:334px;top:894px;width:534px;height:193px;background:#fff;border-radius:8px;"></div>
<div style="position:absolute;left:358px;top:910px;width:40px;height:40px;background:#f0f0f0;border-radius:4px;"></div>
<svg style="position:absolute;left:366px;top:918px;overflow:visible" width="24" height="24" viewBox="-12 -12 24 24" fill="none" stroke="#100d28" stroke-width="1.8" stroke-linecap="round" stroke-linejoin="round"><path d="M6 -3 V-6.6 a2.5 2.5 0 0 0 -2.5 -2.5 H-6.4 a2.5 2.5 0 0 0 -2.5 2.5 V6.4 a2.5 2.5 0 0 0 2.5 2.5 H-1.5 M-5.6 -5.1 H1.8 M-5.8 -1.6 H-2"/><circle cx="-4.5" cy="3.4" r="1.5"/><circle cx="4.5" cy="4.5" r="4.5"/><path d="M2.4 4.4 L3.9 5.8 L6.7 3.1" stroke-width="1.5"/></svg>
<span class="t" id="t86" style="left:409.60px;top:922px;font-size:16.2px;font-weight:700;color:#1a1f36;letter-spacing:0.106px">Supplier compliance</span>
<div style="position:absolute;left:758px;top:910px;width:86px;height:40px;box-sizing:border-box;border:1px solid #c3c5ca;border-radius:4px;background:#fff"></div>
<span class="t" id="t87" style="left:774.53px;top:923px;font-size:14.5px;font-weight:700;color:#1a1f36;letter-spacing:-0.016px">View all</span>
<span class="t" id="t88" style="left:357.89px;top:966px;font-size:12.8px;font-weight:400;color:#6b6f7b;letter-spacing:-0.035px">Open tasks</span>
<span class="t" id="t89" style="left:426.41px;top:965px;font-size:16px;font-weight:400;color:#1a1f36;letter-spacing:0.480px;-webkit-text-stroke:0.3px #1a1f36">1</span>
<div style="position:absolute;left:445.2px;top:970.2px;width:5px;height:5px;background:#666a73;border-radius:2.5px;"></div>
<span class="t" id="t90" style="left:458.62px;top:966px;font-size:12.8px;font-weight:400;color:#6b6f7b;letter-spacing:0.104px">In progress</span>
<span class="t" id="t91" style="left:528.23px;top:965px;font-size:16px;font-weight:400;color:#1a1f36;letter-spacing:0.089px;-webkit-text-stroke:0.3px #1a1f36">0%</span>
<div style="position:absolute;left:358px;top:994px;width:486px;height:1px;background:#e1e3e6;border-radius:0px;"></div>
<div style="position:absolute;left:358.0px;top:1007px;width:237.0px;height:64px;background:#f0f0f0;border-radius:8px;"></div>
<span class="t" id="t92" style="left:373.19px;top:1021px;font-size:12.8px;font-weight:400;color:#1a1f36;letter-spacing:0.244px">Follow-up</span>
<div style="position:absolute;left:374.0px;top:1049px;width:5px;height:1.9px;background:#1a1f36;border-radius:0.5px;"></div>
<div style="position:absolute;left:381.0px;top:1049px;width:5px;height:1.9px;background:#1a1f36;border-radius:0.5px;"></div>
<div style="position:absolute;left:607.0px;top:1007px;width:237.0px;height:64px;background:#fde8e7;border-radius:8px;"></div>
<span class="t" id="t93" style="left:623.12px;top:1021px;font-size:12.8px;font-weight:400;color:#1a1f36;letter-spacing:-0.004px">Overdue</span>
<span class="t" id="t94" style="left:622.18px;top:1042px;font-size:14.5px;font-weight:700;color:#1a1f36;letter-spacing:0.174px">1</span>
<div style="position:absolute;left:892px;top:894px;width:535px;height:193px;background:#fff;border-radius:8px;"></div>
<div style="position:absolute;left:916px;top:910px;width:40px;height:40px;background:#f0f0f0;border-radius:4px;"></div>
<svg style="position:absolute;left:924px;top:918px;overflow:visible" width="24" height="24" viewBox="-12 -12 24 24" fill="none" stroke="#100d28" stroke-width="1.8" stroke-linecap="round" stroke-linejoin="round"><path d="M6 -3.7 V-6.6 a2.5 2.5 0 0 0 -2.5 -2.5 H-6.4 a2.5 2.5 0 0 0 -2.5 2.5 V6.4 a2.5 2.5 0 0 0 2.5 2.5 H1.3 M-5.6 -5.1 H1.8 M-5.8 -1.6 H-2"/><circle cx="-4.5" cy="3.4" r="1.5"/><path d="M1.9 3.7 A3.6 3.6 0 0 1 6 0.3 M9.2 3.9 A3.6 3.6 0 0 1 5 7.3"/><path d="M5.6 -0.9 L7.7 0.7 L5.4 2.4Z M5.5 5.6 L3.4 7.3 L5.7 9Z" fill="#100d28" stroke-width="1.2"/></svg>
<span class="t" id="t95" style="left:967.26px;top:922px;font-size:16.2px;font-weight:700;color:#1a1f36;letter-spacing:0.224px">Lease reviews</span>
<div style="position:absolute;left:1317px;top:910px;width:86px;height:40px;box-sizing:border-box;border:1px solid #c3c5ca;border-radius:4px;background:#fff"></div>
<span class="t" id="t96" style="left:1333.53px;top:923px;font-size:14.5px;font-weight:700;color:#1a1f36;letter-spacing:-0.016px">View all</span>
<span class="t" id="t97" style="left:915.89px;top:966px;font-size:12.8px;font-weight:400;color:#6b6f7b;letter-spacing:-0.035px">Open tasks</span>
<span class="t" id="t98" style="left:984.41px;top:965px;font-size:16px;font-weight:400;color:#1a1f36;letter-spacing:-0.174px;-webkit-text-stroke:0.3px #1a1f36">10</span>
<div style="position:absolute;left:1013.3px;top:970.2px;width:5px;height:5px;background:#666a73;border-radius:2.5px;"></div>
<span class="t" id="t99" style="left:1026.82px;top:966px;font-size:12.8px;font-weight:400;color:#6b6f7b;letter-spacing:0.098px">In progress</span>
<span class="t" id="t100" style="left:1096.43px;top:965px;font-size:16px;font-weight:400;color:#1a1f36;letter-spacing:0.128px;-webkit-text-stroke:0.3px #1a1f36">0%</span>
<div style="position:absolute;left:916px;top:994px;width:487px;height:1px;background:#e1e3e6;border-radius:0px;"></div>
<div style="position:absolute;left:916.0px;top:1007px;width:237.5px;height:64px;background:#f0f0f0;border-radius:8px;"></div>
<span class="t" id="t101" style="left:931.19px;top:1021px;font-size:12.8px;font-weight:400;color:#1a1f36;letter-spacing:0.244px">Follow-up</span>
<div style="position:absolute;left:932.0px;top:1049px;width:5px;height:1.9px;background:#1a1f36;border-radius:0.5px;"></div>
<div style="position:absolute;left:939.0px;top:1049px;width:5px;height:1.9px;background:#1a1f36;border-radius:0.5px;"></div>
<div style="position:absolute;left:1165.5px;top:1007px;width:237.5px;height:64px;background:#fde8e7;border-radius:8px;"></div>
<span class="t" id="t102" style="left:1181.52px;top:1021px;font-size:12.8px;font-weight:400;color:#1a1f36;letter-spacing:-0.016px">Overdue</span>
<span class="t" id="t103" style="left:1180.91px;top:1042px;font-size:14.5px;font-weight:700;color:#1a1f36;letter-spacing:0.174px">7</span>
<div style="position:absolute;left:1451px;top:894px;width:535px;height:193px;background:#fff;border-radius:8px;"></div>
<div style="position:absolute;left:1475px;top:910px;width:40px;height:40px;background:#f0f0f0;border-radius:4px;"></div>
<svg style="position:absolute;left:1483px;top:918px;overflow:visible" width="24" height="24" viewBox="-12 -12 24 24" fill="none" stroke="#100d28" stroke-width="1.8" stroke-linecap="round" stroke-linejoin="round"><path d="M-8 -1.5 V6.5 a2.2 2.2 0 0 0 2.2 2.2 H-2.3 M-9 -1.6 L-0.2 -7.9 L9 -1.55 M4.5 -5.2 V-8.2 a1 1 0 0 1 1 -1 h1.9 a1 1 0 0 1 1 1 V-2.2 M-0.8 3.3 H9.3 M2.8 -0.7 L-1.2 3.3 L2.8 7.3"/></svg>
<span class="t" id="t104" style="left:1526.26px;top:922px;font-size:16.2px;font-weight:700;color:#1a1f36;letter-spacing:0.216px">Move in</span>
<div style="position:absolute;left:1876px;top:910px;width:86px;height:40px;box-sizing:border-box;border:1px solid #c3c5ca;border-radius:4px;background:#fff"></div>
<span class="t" id="t105" style="left:1892.53px;top:923px;font-size:14.5px;font-weight:700;color:#1a1f36;letter-spacing:-0.016px">View all</span>
<span class="t" id="t106" style="left:1474.89px;top:966px;font-size:12.8px;font-weight:400;color:#6b6f7b;letter-spacing:-0.035px">Open tasks</span>
<span class="t" id="t107" style="left:1543.99px;top:965px;font-size:16px;font-weight:400;color:#1a1f36;letter-spacing:0.480px;-webkit-text-stroke:0.3px #1a1f36">0</span>
<div style="position:absolute;left:1565.1px;top:970.2px;width:5px;height:5px;background:#666a73;border-radius:2.5px;"></div>
<span class="t" id="t108" style="left:1578.55px;top:966px;font-size:12.8px;font-weight:400;color:#6b6f7b;letter-spacing:0.097px">In progress</span>
<span class="t" id="t109" style="left:1648.41px;top:965px;font-size:16px;font-weight:400;color:#1a1f36;letter-spacing:-0.299px;-webkit-text-stroke:0.3px #1a1f36">0%</span>
<div style="position:absolute;left:1475px;top:994px;width:487px;height:1px;background:#e1e3e6;border-radius:0px;"></div>
<div style="position:absolute;left:1475.0px;top:1007px;width:237.5px;height:64px;background:#f0f0f0;border-radius:8px;"></div>
<span class="t" id="t110" style="left:1490.19px;top:1021px;font-size:12.8px;font-weight:400;color:#1a1f36;letter-spacing:0.244px">Follow-up</span>
<div style="position:absolute;left:1491.0px;top:1049px;width:5px;height:1.9px;background:#1a1f36;border-radius:0.5px;"></div>
<div style="position:absolute;left:1498.0px;top:1049px;width:5px;height:1.9px;background:#1a1f36;border-radius:0.5px;"></div>
<div style="position:absolute;left:1724.5px;top:1007px;width:237.5px;height:64px;background:#f0f0f0;border-radius:8px;"></div>
<span class="t" id="t111" style="left:1740.52px;top:1021px;font-size:12.8px;font-weight:400;color:#1a1f36;letter-spacing:-0.016px">Overdue</span>
<div style="position:absolute;left:1740.5px;top:1049px;width:5px;height:1.9px;background:#1a1f36;border-radius:0.5px;"></div>
<div style="position:absolute;left:1747.5px;top:1049px;width:5px;height:1.9px;background:#1a1f36;border-radius:0.5px;"></div>
<div style="position:absolute;left:334px;top:1111px;width:534px;height:193px;background:#fff;border-radius:8px;"></div>
<div style="position:absolute;left:358px;top:1127px;width:40px;height:40px;background:#f0f0f0;border-radius:4px;"></div>
<svg style="position:absolute;left:366px;top:1135px;overflow:visible" width="24" height="24" viewBox="-12 -12 24 24" fill="none" stroke="#100d28" stroke-width="1.8" stroke-linecap="round" stroke-linejoin="round"><path d="M-8 -1.5 V6.5 a2.2 2.2 0 0 0 2.2 2.2 H-2.3 M-9 -1.6 L-0.2 -7.9 L9 -1.55 M4.5 -5.2 V-8.2 a1 1 0 0 1 1 -1 h1.9 a1 1 0 0 1 1 1 V-2.2 M-1.3 4.2 H9 M5.5 0.5 L9.3 4.2 L5.5 8"/></svg>
<span class="t" id="t112" style="left:409.26px;top:1139px;font-size:16.2px;font-weight:700;color:#1a1f36;letter-spacing:0.287px">Move out</span>
<div style="position:absolute;left:758px;top:1127px;width:86px;height:40px;box-sizing:border-box;border:1px solid #c3c5ca;border-radius:4px;background:#fff"></div>
<span class="t" id="t113" style="left:774.53px;top:1140px;font-size:14.5px;font-weight:700;color:#1a1f36;letter-spacing:-0.016px">View all</span>
<span class="t" id="t114" style="left:357.89px;top:1183px;font-size:12.8px;font-weight:400;color:#6b6f7b;letter-spacing:-0.035px">Open tasks</span>
<span class="t" id="t115" style="left:426.99px;top:1182px;font-size:16px;font-weight:400;color:#1a1f36;letter-spacing:0.480px;-webkit-text-stroke:0.3px #1a1f36">0</span>
<div style="position:absolute;left:448.1px;top:1187.2px;width:5px;height:5px;background:#666a73;border-radius:2.5px;"></div>
<span class="t" id="t116" style="left:461.55px;top:1183px;font-size:12.8px;font-weight:400;color:#6b6f7b;letter-spacing:0.097px">In progress</span>
<span class="t" id="t117" style="left:531.41px;top:1182px;font-size:16px;font-weight:400;color:#1a1f36;letter-spacing:-0.299px;-webkit-text-stroke:0.3px #1a1f36">0%</span>
<div style="position:absolute;left:358px;top:1211px;width:486px;height:1px;background:#e1e3e6;border-radius:0px;"></div>
<div style="position:absolute;left:358.0px;top:1224px;width:237.0px;height:64px;background:#f0f0f0;border-radius:8px;"></div>
<span class="t" id="t118" style="left:373.19px;top:1238px;font-size:12.8px;font-weight:400;color:#1a1f36;letter-spacing:0.244px">Follow-up</span>
<div style="position:absolute;left:374.0px;top:1266px;width:5px;height:1.9px;background:#1a1f36;border-radius:0.5px;"></div>
<div style="position:absolute;left:381.0px;top:1266px;width:5px;height:1.9px;background:#1a1f36;border-radius:0.5px;"></div>
<div style="position:absolute;left:607.0px;top:1224px;width:237.0px;height:64px;background:#f0f0f0;border-radius:8px;"></div>
<span class="t" id="t119" style="left:623.12px;top:1238px;font-size:12.8px;font-weight:400;color:#1a1f36;letter-spacing:-0.004px">Overdue</span>
<div style="position:absolute;left:623.0px;top:1266px;width:5px;height:1.9px;background:#1a1f36;border-radius:0.5px;"></div>
<div style="position:absolute;left:630.0px;top:1266px;width:5px;height:1.9px;background:#1a1f36;border-radius:0.5px;"></div>
<div style="position:absolute;left:892px;top:1111px;width:535px;height:193px;background:#fff;border-radius:8px;"></div>
<div style="position:absolute;left:916px;top:1127px;width:40px;height:40px;background:#f0f0f0;border-radius:4px;"></div>
<svg style="position:absolute;left:924px;top:1135px;overflow:visible" width="24" height="24" viewBox="-12 -12 24 24" fill="none" stroke="#100d28" stroke-width="1.8" stroke-linecap="round" stroke-linejoin="round"><rect x="-8" y="-7.2" width="16.2" height="16.2" rx="2.6"/><rect x="-3.5" y="-9" width="7" height="3.3" rx="1.6" fill="#f0f0f0"/><path d="M-4.7 -2 L-3.6 -1 L-1.8 -2.9 M-4.7 1.7 L-3.6 2.7 L-1.8 0.8 M1.5 -1.6 H4.6 M1.5 2 H4.6 M1.5 5.6 H4.6" stroke-width="1.5"/></svg>
<span class="t" id="t120" style="left:968.17px;top:1139px;font-size:16.2px;font-weight:700;color:#1a1f36;letter-spacing:0.203px">Tenant deposit reimbursement</span>
<div style="position:absolute;left:1317px;top:1127px;width:86px;height:40px;box-sizing:border-box;border:1px solid #c3c5ca;border-radius:4px;background:#fff"></div>
<span class="t" id="t121" style="left:1333.53px;top:1140px;font-size:14.5px;font-weight:700;color:#1a1f36;letter-spacing:-0.016px">View all</span>
<span class="t" id="t122" style="left:915.89px;top:1183px;font-size:12.8px;font-weight:400;color:#6b6f7b;letter-spacing:-0.035px">Open tasks</span>
<span class="t" id="t123" style="left:984.99px;top:1182px;font-size:16px;font-weight:400;color:#1a1f36;letter-spacing:0.480px;-webkit-text-stroke:0.3px #1a1f36">0</span>
<div style="position:absolute;left:1006.1px;top:1187.2px;width:5px;height:5px;background:#666a73;border-radius:2.5px;"></div>
<span class="t" id="t124" style="left:1019.55px;top:1183px;font-size:12.8px;font-weight:400;color:#6b6f7b;letter-spacing:0.097px">In progress</span>
<span class="t" id="t125" style="left:1089.41px;top:1182px;font-size:16px;font-weight:400;color:#1a1f36;letter-spacing:-0.299px;-webkit-text-stroke:0.3px #1a1f36">0%</span>
<div style="position:absolute;left:916px;top:1211px;width:487px;height:1px;background:#e1e3e6;border-radius:0px;"></div>
<div style="position:absolute;left:916.0px;top:1224px;width:237.5px;height:64px;background:#f0f0f0;border-radius:8px;"></div>
<span class="t" id="t126" style="left:931.19px;top:1238px;font-size:12.8px;font-weight:400;color:#1a1f36;letter-spacing:0.244px">Follow-up</span>
<div style="position:absolute;left:932.0px;top:1266px;width:5px;height:1.9px;background:#1a1f36;border-radius:0.5px;"></div>
<div style="position:absolute;left:939.0px;top:1266px;width:5px;height:1.9px;background:#1a1f36;border-radius:0.5px;"></div>
<div style="position:absolute;left:1165.5px;top:1224px;width:237.5px;height:64px;background:#f0f0f0;border-radius:8px;"></div>
<span class="t" id="t127" style="left:1181.52px;top:1238px;font-size:12.8px;font-weight:400;color:#1a1f36;letter-spacing:-0.016px">Overdue</span>
<div style="position:absolute;left:1181.5px;top:1266px;width:5px;height:1.9px;background:#1a1f36;border-radius:0.5px;"></div>
<div style="position:absolute;left:1188.5px;top:1266px;width:5px;height:1.9px;background:#1a1f36;border-radius:0.5px;"></div>
<div style="position:absolute;left:1451px;top:1111px;width:535px;height:193px;background:#fff;border-radius:8px;"></div>
<div style="position:absolute;left:1475px;top:1127px;width:40px;height:40px;background:#f0f0f0;border-radius:4px;"></div>
<svg style="position:absolute;left:1483px;top:1135px;overflow:visible" width="24" height="24" viewBox="-12 -12 24 24" fill="none" stroke="#100d28" stroke-width="1.8" stroke-linecap="round" stroke-linejoin="round"><rect x="-8" y="-7.2" width="16.2" height="16.2" rx="2.6"/><rect x="-3.5" y="-9" width="7" height="3.3" rx="1.6" fill="#f0f0f0"/><path d="M-4.7 -2 L-3.6 -1 L-1.8 -2.9 M-4.7 1.7 L-3.6 2.7 L-1.8 0.8 M1.5 -1.6 H4.6 M1.5 2 H4.6 M1.5 5.6 H4.6" stroke-width="1.5"/></svg>
<span class="t" id="t128" style="left:1526.68px;top:1139px;font-size:16.2px;font-weight:700;color:#1a1f36;letter-spacing:0.165px">Another custom task</span>
<div style="position:absolute;left:1876px;top:1127px;width:86px;height:40px;box-sizing:border-box;border:1px solid #c3c5ca;border-radius:4px;background:#fff"></div>
<span class="t" id="t129" style="left:1892.53px;top:1140px;font-size:14.5px;font-weight:700;color:#1a1f36;letter-spacing:-0.016px">View all</span>
<span class="t" id="t130" style="left:1474.89px;top:1183px;font-size:12.8px;font-weight:400;color:#6b6f7b;letter-spacing:-0.035px">Open tasks</span>
<span class="t" id="t131" style="left:1543.99px;top:1182px;font-size:16px;font-weight:400;color:#1a1f36;letter-spacing:0.480px;-webkit-text-stroke:0.3px #1a1f36">0</span>
<div style="position:absolute;left:1565.1px;top:1187.2px;width:5px;height:5px;background:#666a73;border-radius:2.5px;"></div>
<span class="t" id="t132" style="left:1578.55px;top:1183px;font-size:12.8px;font-weight:400;color:#6b6f7b;letter-spacing:0.097px">In progress</span>
<span class="t" id="t133" style="left:1648.41px;top:1182px;font-size:16px;font-weight:400;color:#1a1f36;letter-spacing:-0.299px;-webkit-text-stroke:0.3px #1a1f36">0%</span>
<div style="position:absolute;left:1475px;top:1211px;width:487px;height:1px;background:#e1e3e6;border-radius:0px;"></div>
<div style="position:absolute;left:1475.0px;top:1224px;width:237.5px;height:64px;background:#f0f0f0;border-radius:8px;"></div>
<span class="t" id="t134" style="left:1490.19px;top:1238px;font-size:12.8px;font-weight:400;color:#1a1f36;letter-spacing:0.244px">Follow-up</span>
<div style="position:absolute;left:1491.0px;top:1266px;width:5px;height:1.9px;background:#1a1f36;border-radius:0.5px;"></div>
<div style="position:absolute;left:1498.0px;top:1266px;width:5px;height:1.9px;background:#1a1f36;border-radius:0.5px;"></div>
<div style="position:absolute;left:1724.5px;top:1224px;width:237.5px;height:64px;background:#f0f0f0;border-radius:8px;"></div>
<span class="t" id="t135" style="left:1740.52px;top:1238px;font-size:12.8px;font-weight:400;color:#1a1f36;letter-spacing:-0.016px">Overdue</span>
<div style="position:absolute;left:1740.5px;top:1266px;width:5px;height:1.9px;background:#1a1f36;border-radius:0.5px;"></div>
<div style="position:absolute;left:1747.5px;top:1266px;width:5px;height:1.9px;background:#1a1f36;border-radius:0.5px;"></div>
<div style="position:absolute;left:2177px;top:1212px;width:64px;height:64px;background:#11265c;border-radius:32px;box-shadow:0 5px 22px rgba(70,100,100,.5),0 2px 8px rgba(70,100,100,.25)"></div>
<svg style="position:absolute;left:2177px;top:1212px" width="64" height="64" viewBox="0 0 64 64"><rect x="16.5" y="22.5" width="31.5" height="16.5" rx="8.25" fill="#fff"/><path d="M36 42H42.5V48.5Z" fill="#fff"/></svg>
</div>
</body></html>
